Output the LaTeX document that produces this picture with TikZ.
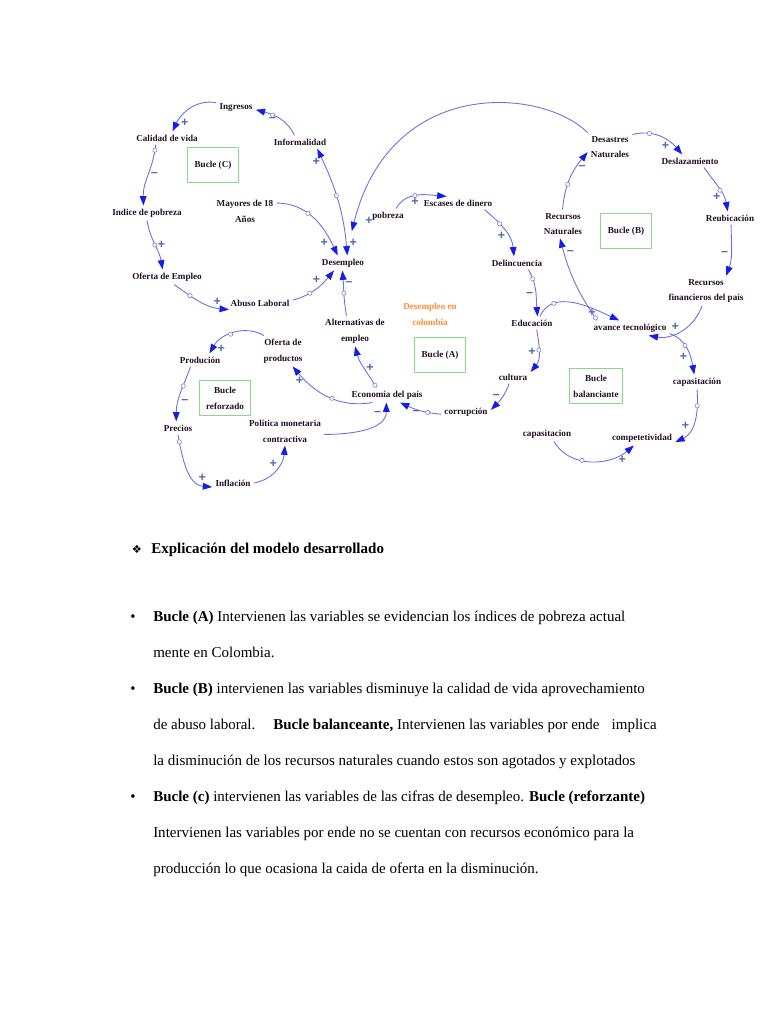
\documentclass[tikz,border=0pt]{standalone}
\usepackage{fontspec}
\setmainfont{Liberation Serif}
\setsansfont{Liberation Sans}
\newfontfamily\dingfont{DejaVu Sans}
\usetikzlibrary{arrows.meta}
\usetikzlibrary{positioning}

\definecolor{lnkcol}{RGB}{110,110,225}
\definecolor{tipcol}{RGB}{20,30,235}
\definecolor{sgncol}{RGB}{75,110,170}
\definecolor{labcol}{RGB}{35,15,35}
\definecolor{boxcol}{RGB}{135,220,135}
\definecolor{orgcol}{RGB}{255,140,50}

\tikzset{
    var/.style={
           font=\bfseries\fontsize{7.3}{12.6}\selectfont,
           text=labcol,
           align=center,
           inner sep=2.5pt,
           },
    bucle/.style={
           rectangle,
           draw=boxcol, line width=.8pt,
           fill=white,
           minimum width=1.42cm,
           minimum height=0.97cm,
           font=\bfseries\fontsize{7.3}{12.6}\selectfont,
           text=labcol,
           align=center,
           },
    lnk/.style={draw=lnkcol, line width=.7pt, ->},
    hole/.style={circle, draw=lnkcol, fill=white, inner sep=0pt,
           minimum size=3.4pt, line width=.4pt},
    sgn/.style={font=\sffamily\bfseries\fontsize{10}{10}\selectfont,
           text=sgncol, inner sep=.5pt},
    body/.style={font=\fontsize{12}{14}\selectfont, anchor=base west,
           inner sep=0pt},
}

\begin{document}
\begin{tikzpicture}[x=0.0281cm,y=0.0281cm,
  >={Triangle[length=7.5pt,width=5.4pt,color=tipcol]}]
\path[use as bounding box,fill=white] (0,0) rectangle (768,-1024);

% variables
\node[var] (ING) at (236,-108) {Ingresos};
\node[var] (CAL) at (167,-138) {Calidad de vida};
\node[var] (INF) at (300,-142) {Informalidad};
\node[var] (IND) at (147,-213) {Indice de pobreza};
\node[var] (MAY) at (245,-211) {Mayores de 18\\Años};
\node[var] (DES) at (343,-263) {Desempleo};
\node[var] (OFE) at (167,-277) {Oferta de Empleo};
\node[var] (ABU) at (260,-303) {Abuso Laboral};
\node[var] (POB) at (388,-216) {pobreza};
\node[var] (ESC) at (458,-203) {Escases de dinero};
\node[var] (DEL) at (517,-263) {Delincuencia};
\node[var] (DNA) at (610,-147) {Desastres\\Naturales};
\node[var] (DSP) at (690,-161) {Deslazamiento};
\node[var] (RNA) at (563,-224) {Recursos\\Naturales};
\node[var] (REU) at (730,-218) {Reubicación};
\node[var] (RFI) at (706,-291) {Recursos\\financieros del país};
\node[var] (EDU) at (532,-323) {Educación};
\node[var] (AVA) at (630,-328) {avance tecnológico};
\node[var] (CUL) at (513,-377) {cultura};
\node[var] (CAP) at (697,-382) {capasitación};
\node[var] (COR) at (466,-412) {corrupción};
\node[var] (CAZ) at (547,-434) {capasitacion};
\node[var] (COM) at (642,-438) {competetividad};
\node[var] (ALT) at (355,-331) {Alternativas de\\empleo};
\node[var] (OPR) at (283,-351) {Oferta de\\productos};
\node[var] (PRO) at (200,-360) {Produción};
\node[var] (ECO) at (387,-395) {Economía del país};
\node[var] (PRE) at (178,-428) {Precios};
\node[var] (POL) at (285,-431) {Política monetaria\\contractiva};
\node[var] (INL) at (233,-483) {Inflación};
\node[var,text=orgcol] (TIT) at (430,-314) {Desempleo en\\colombia};

% bucles
\node[bucle] (BC) at (213,-165) {Bucle (C)};
\node[bucle] (BB) at (626,-231) {Bucle (B)};
\node[bucle] (BA) at (440,-355) {Bucle (A)};
\node[bucle] (BR) at (225,-398) {Bucle\\reforzado};
\node[bucle] (BBAL) at (596,-386) {Bucle\\balanciante};

% links
\path
  (INF.130) edge[lnk,out=115,in=-15]
    node[hole,pos=.65]{} node[sgn,pos=.65,below=1pt]{–} (ING.-5)
  (ING.165) edge[lnk,out=170,in=65]
    node[sgn,pos=.75,below right=0pt]{+} (CAL.50)
  (CAL.210) edge[lnk,out=-95,in=92]
    node[hole,pos=.08]{} node[sgn,pos=.5,right=1pt]{–} (IND.115)
  (IND.south) edge[lnk,out=-80,in=100]
    node[hole,pos=.5]{} node[sgn,pos=.5,right=1.5pt]{+} (OFE.120)
  (OFE.-47) edge[lnk,out=-35,in=175]
    node[hole,pos=.3]{} node[sgn,pos=.82,above=1pt]{+} (ABU.192)
  (ABU.5) edge[lnk,out=15,in=-130]
    node[hole,pos=.35]{} node[sgn,pos=.65,above left=0pt]{+} (DES.220)
  (ALT.119) edge[lnk,out=100,in=-85]
    node[hole,pos=.5]{} node[sgn,pos=.72,right=1pt]{–} (DES.265)
  (MAY.14) edge[lnk,out=0,in=115]
    node[hole,pos=.4]{} node[sgn,pos=.85,left=2pt]{+} (DES.125)
  (DES.60) edge[lnk,<->,out=95,in=-65]
    node[hole,pos=.55]{} node[sgn,pos=.1,right=2pt]{+}
    node[sgn,pos=.88,left=2pt]{+} (INF.-21)
  (POB.43) edge[lnk,out=60,in=175]
    node[hole,pos=.45]{} node[sgn,pos=.45,below=1.5pt]{+} (ESC.150)
  (ESC.-14) edge[lnk,out=-40,in=95]
    node[hole,pos=.35]{} node[sgn,pos=.62,left=1.5pt]{+} (DEL.115)
  (DEL.-30) edge[lnk,out=-60,in=95]
    node[hole,pos=.2]{} node[sgn,pos=.55,left=1.5pt]{–} (EDU.50)
  (EDU.40) edge[lnk,out=65,in=155]
    node[hole,pos=.25]{} node[sgn,pos=.7,below=0pt]{+} (AVA.145)
  (AVA.167) edge[lnk,out=125,in=-75]
    node[hole,pos=.03]{} node[sgn,pos=.85,right=1.5pt]{–} (RNA.258)
  (RNA.92) edge[lnk,out=85,in=-130]
    node[hole,pos=.4]{} node[sgn,pos=.72,right=1pt]{–} (DNA.193)
  (DNA.29) edge[lnk,out=15,in=130]
    node[hole,pos=.3]{} node[sgn,pos=.62,below=1pt]{+} (DSP.140)
  (DSP.-25) edge[lnk,out=-55,in=100]
    node[hole,pos=.55]{} node[sgn,pos=.7,left=1.5pt]{+} (REU.109)
  (REU.-80) edge[lnk,out=-90,in=70]
    node[sgn,pos=.55,left=1.5pt]{–} (RFI.37)
  (RFI.255) edge[lnk,out=-110,in=-10]
    node[sgn,pos=.6,above=1.5pt]{+} (AVA.-22)
  (AVA.-8) edge[lnk,out=-20,in=100]
    node[hole,pos=.4]{} node[sgn,pos=.65,left=1.5pt]{+} (CAP.110)
  (CAP.south) edge[lnk,out=-85,in=25]
    node[hole,pos=.25]{} node[sgn,pos=.6,left=1.5pt]{+} (COM.-7)
  (CAZ.-47) edge[lnk,out=-60,in=-140]
    node[hole,pos=.4]{} node[sgn,pos=.85,below=1pt]{+} (COM.223)
  (EDU.-55) edge[lnk,out=-80,in=50]
    node[hole,pos=.45]{} node[sgn,pos=.5,left=1.5pt]{+} (CUL.16)
  (CUL.240) edge[lnk,out=-110,in=45]
    node[sgn,pos=.45,left=1.5pt]{–} (COR.5)
  (COR.185) edge[lnk,out=175,in=-25]
    node[hole,pos=.3]{} node[sgn,pos=.6,below=.5pt]{–} (ECO.-30)
  (POL.-5) edge[lnk,out=0,in=-90]
    node[sgn,pos=.85,left=1.5pt]{–} (ECO.265)
  (ECO.145) edge[lnk,out=120,in=-75]
    node[hole,pos=.05]{} node[sgn,pos=.5,right=1pt]{+} (ALT.south)
  (ECO.207) edge[lnk,out=190,in=-50]
    node[hole,pos=.45]{} node[sgn,pos=.8,left=1.5pt]{+} (OPR.-58)
  (OPR.141) edge[lnk,out=150,in=60]
    node[hole,pos=.55]{} node[sgn,pos=.82,below right=0pt]{+} (PRO.35)
  (PRO.215) edge[lnk,out=-110,in=90]
    node[hole,pos=.35]{} node[sgn,pos=.65,right=1.5pt]{–} (PRE.105)
  (PRE.south) edge[lnk,out=-80,in=175]
    node[hole,pos=.1]{} node[sgn,pos=.85,above=1.5pt]{+} (INL.191)
  (INL.0) edge[lnk,out=10,in=-95]
    node[sgn,pos=.65,left=1.5pt]{+} (POL.south)
;
\draw[lnk,shorten >=20pt] (DNA.north west)
  .. controls +(-45,45) and +(45,180) .. (DES.70)
  node[sgn,pos=.93,right=6pt]{+};

% texto
\node[anchor=base,font=\dingfont\fontsize{9}{9}\selectfont] (H0b) at (137,-553) {❖};
\node[body] (H0) at (151,-553) {\textbf{Explicación del modelo desarrollado}};
\node[body,anchor=base] (B1) at (133,-621) {•};
\node[body] (L1) at (153,-621) {\textbf{Bucle (A)} Intervienen las variables se evidencian los índices de pobreza actual};
\node[body] (L2) at (153,-657) {mente en Colombia.};
\node[body,anchor=base] (B2) at (133,-693) {•};
\node[body] (L3) at (153,-693) {\textbf{Bucle (B)} intervienen las variables disminuye la calidad de vida aprovechamiento};
\node[body] (L4) at (153,-729) {de abuso laboral.\hspace{1.2em}\textbf{Bucle balanceante,} Intervienen las variables por ende\hspace{.8em}implica};
\node[body] (L5) at (153,-765) {la disminución de los recursos naturales cuando estos son agotados y explotados};
\node[body,anchor=base] (B3) at (133,-801) {•};
\node[body] (L6) at (153,-801) {\textbf{Bucle (c)} intervienen las variables de las cifras de desempleo. \textbf{Bucle (reforzante)}};
\node[body] (L7) at (153,-837) {Intervienen las variables por ende no se cuentan con recursos económico para la};
\node[body] (L8) at (153,-873) {producción lo que ocasiona la caida de oferta en la disminución.};
\end{tikzpicture}
\end{document}
